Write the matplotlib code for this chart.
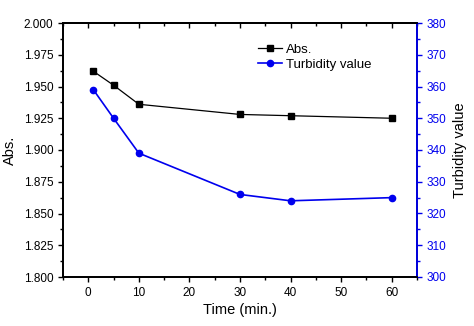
import matplotlib
matplotlib.use("Agg")
import matplotlib.pyplot as plt
from matplotlib.ticker import MultipleLocator, FormatStrFormatter

plt.rcParams["font.family"] = ["Liberation Sans", "DejaVu Sans"]

# ----------------------------
# data
# ----------------------------
time_min = [1, 5, 10, 30, 40, 60]
absorbance = [1.962, 1.951, 1.936, 1.928, 1.927, 1.925]
turbidity = [359, 350, 339, 326, 324, 325]

blue = "#0000ee"

fig = plt.figure(figsize=(4.74, 3.26), dpi=100)
ax = fig.add_axes([63 / 474, 1 - 277 / 326, (417 - 63) / 474, (277 - 23) / 326])
ax2 = ax.twinx()

l1, = ax.plot(time_min, absorbance, "-s", color="black", lw=0.9, ms=4.2, label="Abs.")
l2, = ax2.plot(time_min, turbidity, "-o", color=blue, lw=1.2, ms=4.5, label="Turbidity value")

ax.set_xlim(-5, 65)
ax.set_ylim(1.8, 2.0)
ax2.set_ylim(300, 380)

ax.xaxis.set_major_locator(MultipleLocator(10))
ax.xaxis.set_minor_locator(MultipleLocator(5))
ax.yaxis.set_major_locator(MultipleLocator(0.025))
ax.yaxis.set_minor_locator(MultipleLocator(0.0125))
ax2.yaxis.set_major_locator(MultipleLocator(10))
ax2.yaxis.set_minor_locator(MultipleLocator(5))
ax.yaxis.set_major_formatter(FormatStrFormatter("%.3f"))

ax.tick_params(axis="both", which="major", direction="out", length=3.5, width=1, labelsize=8.5)
ax.tick_params(axis="both", which="minor", direction="out", length=2, width=1)
ax.tick_params(axis="y", right=False, which="both")

# top axis: ticks pointing inward, no labels
top = ax.secondary_xaxis("top")
top.xaxis.set_major_locator(MultipleLocator(10))
top.xaxis.set_minor_locator(MultipleLocator(5))
top.tick_params(which="major", direction="in", length=3.5, width=1, labeltop=False)
top.tick_params(which="minor", direction="in", length=2, width=1)
top.spines["top"].set_linewidth(1.3)

ax2.tick_params(axis="y", which="major", direction="out", length=3.5, width=1,
                colors=blue, labelsize=8.5)
ax2.tick_params(axis="y", which="minor", direction="out", length=2, width=1, colors=blue)

for s in ax.spines.values():
    s.set_linewidth(1.3)
for s in ax2.spines.values():
    s.set_linewidth(1.3)
ax2.spines["right"].set_color(blue)

ax.set_xlabel("Time (min.)", fontsize=10.5, labelpad=3)
ax.set_ylabel("Abs.", fontsize=10.5, labelpad=5)
ax2.set_ylabel("Turbidity value", fontsize=10.5, labelpad=5)

ax.legend([l1, l2], ["Abs.", "Turbidity value"], loc="upper right",
          bbox_to_anchor=(0.905, 0.965), frameon=False, fontsize=9.5,
          handlelength=1.8, handletextpad=0.3, labelspacing=0.2)

fig.savefig("out.png", dpi=100)
